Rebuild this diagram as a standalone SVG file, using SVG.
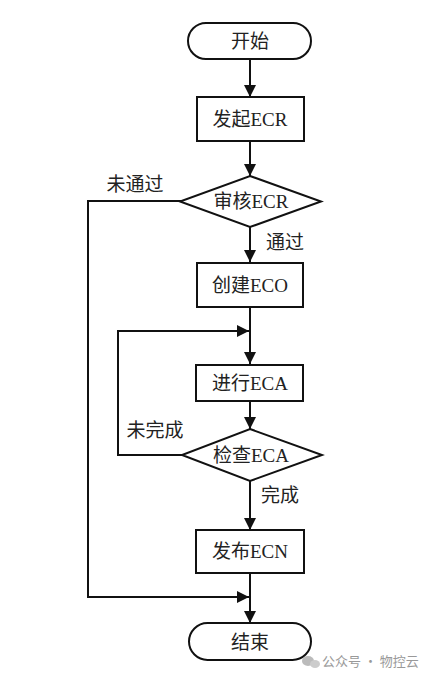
<svg xmlns="http://www.w3.org/2000/svg" width="422" height="679" viewBox="0 0 422 679">
<style>
.shape{fill:#fff;stroke:#111;stroke-width:2}
.line{fill:none;stroke:#111;stroke-width:2}
.t{font-family:"Liberation Serif","Noto Sans CJK SC",serif;font-size:19px;fill:#222;text-anchor:middle;dominant-baseline:central}
.wm{font-family:"Noto Sans CJK SC",sans-serif;font-size:13px;fill:#999}
</style>
<defs>
<marker id="arr" viewBox="0 0 12 12" refX="12" refY="6" markerWidth="12" markerHeight="12" markerUnits="userSpaceOnUse" orient="auto">
<path d="M0,0 L12,6 L0,12 Z" fill="#111"/>
</marker>
</defs>
<rect width="422" height="679" fill="#fff"/>
<g id="connectors">
<line class="line" x1="250" y1="59" x2="250" y2="97" marker-end="url(#arr)"/>
<line class="line" x1="250" y1="141" x2="250" y2="176" marker-end="url(#arr)"/>
<line class="line" x1="250" y1="227" x2="250" y2="262" marker-end="url(#arr)"/>
<line class="line" x1="250" y1="307" x2="250" y2="364" marker-end="url(#arr)"/>
<line class="line" x1="250" y1="401" x2="250" y2="429" marker-end="url(#arr)"/>
<line class="line" x1="250" y1="481" x2="250" y2="530" marker-end="url(#arr)"/>
<line class="line" x1="250" y1="573" x2="250" y2="623" marker-end="url(#arr)"/>
<polyline class="line" points="181,201 88,201 88,597 249,597" marker-end="url(#arr)"/>
<polyline class="line" points="182,455 118,455 118,331 249,331" marker-end="url(#arr)"/>
<text class="t" x="135" y="184">未通过</text>
<text class="t" x="285" y="242">通过</text>
<text class="t" x="155" y="430">未完成</text>
<text class="t" x="280" y="495">完成</text>
</g>
<g id="start">
<rect class="shape" x="188" y="23" width="123" height="36" rx="18"/>
<text class="t" x="250" y="41">开始</text>
</g>
<g id="ecr">
<rect class="shape" x="197" y="97" width="107" height="44"/>
<text class="t" x="250" y="119">发起ECR</text>
</g>
<g id="review">
<polygon class="shape" points="250,176 321,201.5 250,227 180,201.5"/>
<text class="t" x="251" y="201">审核ECR</text>
</g>
<g id="eco">
<rect class="shape" x="197" y="263" width="106" height="44"/>
<text class="t" x="250" y="285">创建ECO</text>
</g>
<g id="eca">
<rect class="shape" x="196" y="365" width="107" height="36"/>
<text class="t" x="250" y="383">进行ECA</text>
</g>
<g id="check">
<polygon class="shape" points="250,429 322,455 250,481 182,455"/>
<text class="t" x="251" y="455">检查ECA</text>
</g>
<g id="ecn">
<rect class="shape" x="196" y="530" width="108" height="43"/>
<text class="t" x="250" y="551">发布ECN</text>
</g>
<g id="end">
<rect class="shape" x="189" y="623" width="122" height="37" rx="18.5"/>
<text class="t" x="250" y="642">结束</text>
</g>
<g id="watermark">
<ellipse cx="308" cy="661" rx="6" ry="5" fill="#bbb"/>
<ellipse cx="315" cy="664" rx="5" ry="4" fill="#ccc"/>
<text class="wm" x="322" y="666">公众号 · 物控云</text>
</g>
</svg>
